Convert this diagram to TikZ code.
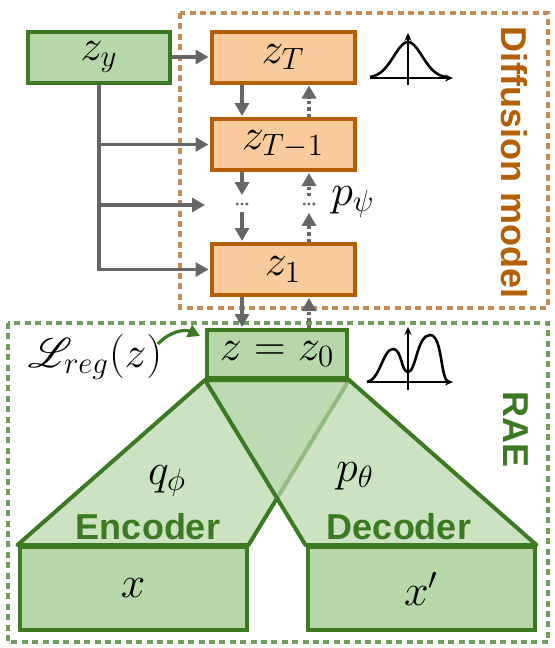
\RequirePackage{fix-cm}
\documentclass[tikz,border=0pt]{standalone}
\usepackage{fontspec}
\setsansfont{Liberation Sans}
\usepackage{mathrsfs}
\usetikzlibrary{arrows.meta}
\definecolor{dgreen}{HTML}{3B7A22}
\definecolor{lgreen}{HTML}{B6D7A8}
\definecolor{dorange}{HTML}{B45F06}
\definecolor{lorange}{HTML}{F9CB9C}
\definecolor{arrgray}{HTML}{666666}
\definecolor{dashorange}{HTML}{C58A55}
\definecolor{dashgreen}{HTML}{6F9F5F}
\pgfdeclarelayer{bg}
\pgfsetlayers{bg,main}
\begin{document}
\begin{tikzpicture}[x=0.5pt,y=-0.5pt,
  bigfont/.style={font=\fontsize{22}{26}\selectfont},
  gbox/.style={draw=dgreen, fill=lgreen, line width=2pt, minimum width=71pt, minimum height=25.5pt, inner sep=0pt, bigfont},
  obox/.style={draw=dorange, fill=lorange, line width=2pt, minimum width=71.5pt, minimum height=25.5pt, inner sep=0pt, bigfont},
  arr/.style={draw=arrgray, line width=1.6pt, -{Triangle[length=6.5pt,width=7pt]}, shorten >=0.5pt},
  darr/.style={arr, dash pattern=on 1.6pt off 1.6pt},
  dotsn/.style={inner sep=0pt, minimum width=8pt, minimum height=7.5pt,
    path picture={\foreach \d in {-2.4pt,0pt,2.4pt}{\fill[arrgray] ([xshift=\d]path picture bounding box.center) circle (0.85pt);}}},
  frame/.style={line width=1.6pt, dash pattern=on 3pt off 2.2pt},
  lbl/.style={bigfont},
  sflbl/.style={font=\fontsize{18}{20}\selectfont\sffamily\bfseries},
  axis/.style={line width=0.6pt, -{Stealth[length=4pt,width=3.5pt]}},
  curve/.style={line width=1.3pt},
  trap/.style={draw=dgreen, fill=lgreen, fill opacity=0.7, line width=2pt, line join=round}
]
\useasboundingbox (0,0) rectangle (554,648);

% frames
\draw[frame, dashorange] (180,13) rectangle (548,308);
\draw[frame, dashgreen] (8,323) rectangle (548,642);

% diffusion boxes
\node[gbox] (zy) at (99,57) {$z_y$};
\node[obox] (zT) at (283,57) {$z_T$};
\node[obox] (zT1) at (283,144.5) {$z_{T-1}$};
\node[obox] (z1) at (283,269.5) {$z_1$};
\node[gbox, minimum width=70pt, minimum height=24pt] (z0) at (277,354) {$z=z_0$};

\coordinate (cl) at (242,0);
\coordinate (cr) at (309,0);
\coordinate (dd) at (206,205);
\node[dotsn] (dl) at (242,204) {};
\node[dotsn] (dr) at (309,204) {};

% conditioning arrows
\draw[arr] (zy.east) -- (zT.west);
\draw[arr] (zy.south) |- (zT1.west);
\draw[arr] (zy.south) |- (dd);
\draw[arr] (zy.south) |- (z1.west);

% forward (left column)
\draw[arr] (zT.south -| cl) -- (zT1.north -| cl);
\draw[arr] (zT1.south -| cl) -- (dl.north);
\draw[arr] (dl.south) -- (z1.north -| cl);
\draw[arr] (z1.south -| cl) -- (z0.north -| cl);
% reverse (right column)
\draw[darr] (zT1.north -| cr) -- (zT.south -| cr);
\draw[darr] (dr.north) -- (zT1.south -| cr);
\draw[darr] (z1.north -| cr) -- (dr.south);
\draw[darr] (z0.north -| cr) -- (z1.south -| cr);

\node[lbl] (ppsi) at (353,202) {$p_\psi$};

% gaussian
\draw[axis] (370,78) -- (453,78);
\draw[axis] (408,85) -- (408,33);
\draw[curve] plot[domain=370:447, samples=60, smooth] (\x, {78 - 36*exp(-((\x-408)/20)^2)});

\node[sflbl, text=dorange, rotate=-90] (dm) at (514,162.5) {Diffusion model};

% RAE
\node[gbox, minimum width=113.5pt, minimum height=41.5pt] (xb) at (133,588.5) {$x$};
\node[gbox, minimum width=113.5pt, minimum height=41.5pt] (xpb) at (421,588.5) {$x'$};

\begin{pgfonlayer}{bg}
\path[trap] (z0.south west) -- (xb.north west) -- (xb.north east) -- (z0.south east) -- cycle;
\path[trap] (z0.south west) -- (xpb.north west) -- (xpb.north east) -- (z0.south east) -- cycle;
\end{pgfonlayer}

\node[sflbl, text=dgreen] (enc) at (148,527) {Encoder};
\node[lbl] (qphi) at (167,481) {$q_\phi$};
\node[sflbl, text=dgreen] (dec) at (399,527) {Decoder};
\node[lbl] (pth) at (355,476) {$p_\theta$};

\node[lbl] (lreg) at (95,357) {$\mathscr{L}_{reg}(z)$};
\coordinate (ls) at (158,344);
\coordinate (le) at (200,336);
\draw[dgreen, line width=1.6pt, -{Triangle[length=6pt,width=6.5pt]}] (ls) .. controls (170,331) and (185,329) .. (le);

% bimodal
\draw[axis] (367,382) -- (453,382);
\draw[axis] (408,390) -- (408,327);
\draw[curve] (367,382) .. controls (380,380) and (383,349) .. (393,349)
  .. controls (402,349) and (401,372) .. (408,372)
  .. controls (416,372) and (417,335) .. (430,335)
  .. controls (443,335) and (440,381) .. (449,382);

\node[sflbl, text=dgreen, rotate=-90] (rae) at (516,430) {RAE};
\end{tikzpicture}
\end{document}
